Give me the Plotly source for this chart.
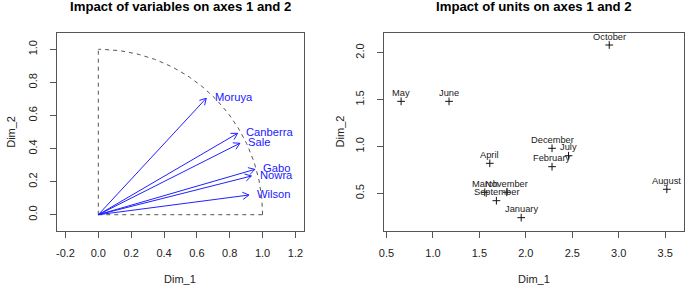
import numpy as np
import plotly.graph_objects as go

# ---- data ----
variables = ["Moruya", "Canberra", "Sale", "Gabo", "Nowra", "Wilson"]
var_dim1 = [0.657, 0.848, 0.862, 0.953, 0.932, 0.917]
var_dim2 = [0.704, 0.492, 0.432, 0.274, 0.234, 0.119]

months = ["January", "February", "March", "April", "May", "June", "July",
          "August", "September", "October", "November", "December"]
unit_dim1 = [1.950, 2.282, 1.558, 1.612, 0.657, 1.173, 2.460, 3.518, 1.683, 2.898, 1.795, 2.282]
unit_dim2 = [0.240, 0.784, 0.511, 0.820, 1.481, 1.481, 0.901, 0.543, 0.421, 2.082, 0.511, 0.980]

left_xticks = [-0.2, 0.0, 0.2, 0.4, 0.6, 0.8, 1.0, 1.2]
left_yticks = [0.0, 0.2, 0.4, 0.6, 0.8, 1.0]
right_xticks = [0.5, 1.0, 1.5, 2.0, 2.5, 3.0, 3.5]
right_yticks = [0.5, 1.0, 1.5, 2.0]

W, H = 685, 285
FONT = "Liberation Sans, Arial, Helvetica, sans-serif"
AXC = "#555555"
TXT = "#222222"

# plot boxes in pixels
L_box = (52.3, 301.0)
R_box = (381.7, 684.0)
Y_box = (33.0, 230.7)  # top, bottom

def dom_x(b):
    return [b[0] / W, b[1] / W]

ydom = [(H - Y_box[1]) / H, (H - Y_box[0]) / H]

lx_range = [-0.252, 1.251]
ly_range = [-0.0967, 1.0986]
rx_range = [0.472, 3.703]
ry_range = [0.101, 2.210]

fig = go.Figure()

# dashed quarter circle and axes segments
th = np.linspace(0, np.pi / 2, 100)
dash_style = dict(color=AXC, width=1, dash="4px,4px")
fig.add_trace(go.Scatter(x=np.cos(th), y=np.sin(th), mode="lines", line=dash_style,
                         xaxis="x", yaxis="y", hoverinfo="skip", showlegend=False))
fig.add_trace(go.Scatter(x=[0, 1], y=[0, 0], mode="lines", line=dash_style,
                         xaxis="x", yaxis="y", hoverinfo="skip", showlegend=False))
fig.add_trace(go.Scatter(x=[0, 0], y=[0, 1], mode="lines", line=dash_style,
                         xaxis="x", yaxis="y", hoverinfo="skip", showlegend=False))

# arrows
px_per_unit = (L_box[1] - L_box[0]) / (lx_range[1] - lx_range[0])
head = 7.2 / px_per_unit
ax_, ay_ = [], []
for xv, yv in zip(var_dim1, var_dim2):
    ang = np.arctan2(yv, xv)
    ax_ += [0, xv, None]
    ay_ += [0, yv, None]
    for d in (np.pi / 6, -np.pi / 6):
        ax_ += [xv - head * np.cos(ang + d), xv, None]
        ay_ += [yv - head * np.sin(ang + d), yv, None]
fig.add_trace(go.Scatter(x=ax_, y=ay_, mode="lines", line=dict(color="#2020ff", width=1),
                         xaxis="x", yaxis="y", hoverinfo="skip", showlegend=False))

annotations = []
for name, xv, yv in zip(variables, var_dim1, var_dim2):
    annotations.append(dict(x=xv, y=yv, xref="x", yref="y", text=name, showarrow=False,
                            xanchor="left", yanchor="middle", xshift=6.5, yshift=1,
                            font=dict(family=FONT, size=11.2, color="#2020ff")))

# units
fig.add_trace(go.Scatter(x=unit_dim1, y=unit_dim2, mode="markers",
                         marker=dict(symbol="cross-thin", size=5.5,
                                     line=dict(color="#111111", width=1)),
                         xaxis="x2", yaxis="y2", hoverinfo="skip", showlegend=False))
for name, xv, yv in zip(months, unit_dim1, unit_dim2):
    annotations.append(dict(x=xv, y=yv, xref="x2", yref="y2", text=name, showarrow=False,
                            xanchor="center", yanchor="middle", yshift=8.5,
                            font=dict(family=FONT, size=9.3, color=TXT)))

# titles & axis labels
def px2x(p):
    return p / W

def px2y(p):
    return (H - p) / H

title_font = dict(family=FONT, size=13.2, color="#000000")
lab_font = dict(family=FONT, size=11, color=TXT)
annotations += [
    dict(x=px2x(176.5), y=px2y(7), xref="paper", yref="paper", text="<b>Impact of variables on axes 1 and 2</b>",
         showarrow=False, xanchor="center", yanchor="middle", font=title_font),
    dict(x=px2x(532.5), y=px2y(7), xref="paper", yref="paper", text="<b>Impact of units on axes 1 and 2</b>",
         showarrow=False, xanchor="center", yanchor="middle", font=title_font),
    dict(x=px2x((L_box[0] + L_box[1]) / 2), y=px2y(278.7), xref="paper", yref="paper", text="Dim_1",
         showarrow=False, xanchor="center", yanchor="middle", font=lab_font),
    dict(x=px2x((R_box[0] + R_box[1]) / 2), y=px2y(278.7), xref="paper", yref="paper", text="Dim_1",
         showarrow=False, xanchor="center", yanchor="middle", font=lab_font),
    dict(x=px2x(6), y=px2y((Y_box[0] + Y_box[1]) / 2), xref="paper", yref="paper", text="Dim_2",
         showarrow=False, xanchor="center", yanchor="middle", textangle=-90, font=lab_font),
    dict(x=px2x(337), y=px2y((Y_box[0] + Y_box[1]) / 2), xref="paper", yref="paper", text="Dim_2",
         showarrow=False, xanchor="center", yanchor="middle", textangle=-90, font=lab_font),
]

axis_common = dict(showgrid=False, zeroline=False, showline=True, mirror=True,
                   linecolor=AXC, linewidth=1, ticks="outside", ticklen=6, tickcolor=AXC,
                   tickwidth=1, tickfont=dict(family=FONT, size=11, color=TXT), fixedrange=True)

fig.update_layout(
    width=W, height=H, margin=dict(l=0, r=0, t=0, b=0),
    paper_bgcolor="white", plot_bgcolor="white", showlegend=False,
    xaxis=dict(domain=dom_x(L_box), range=lx_range, tickvals=left_xticks,
               ticktext=[f"{v:.1f}" for v in left_xticks], anchor="y",
               ticklabelstandoff=6, **axis_common),
    yaxis=dict(domain=ydom, range=ly_range, tickvals=left_yticks,
               ticktext=[f"{v:.1f}" for v in left_yticks], anchor="x", tickangle=-90,
               ticklabelstandoff=9, **axis_common),
    xaxis2=dict(domain=dom_x(R_box), range=rx_range, tickvals=right_xticks,
                ticktext=[f"{v:.1f}" for v in right_xticks], anchor="y2",
                ticklabelstandoff=6, **axis_common),
    yaxis2=dict(domain=ydom, range=ry_range, tickvals=right_yticks,
                ticktext=[f"{v:.1f}" for v in right_yticks], anchor="x2", tickangle=-90,
                ticklabelstandoff=9, **axis_common),
    annotations=annotations,
)

fig.write_html("out.html", config={"displayModeBar": False},
               post_script="document.body.style.margin='0';document.body.style.overflow='hidden';")
